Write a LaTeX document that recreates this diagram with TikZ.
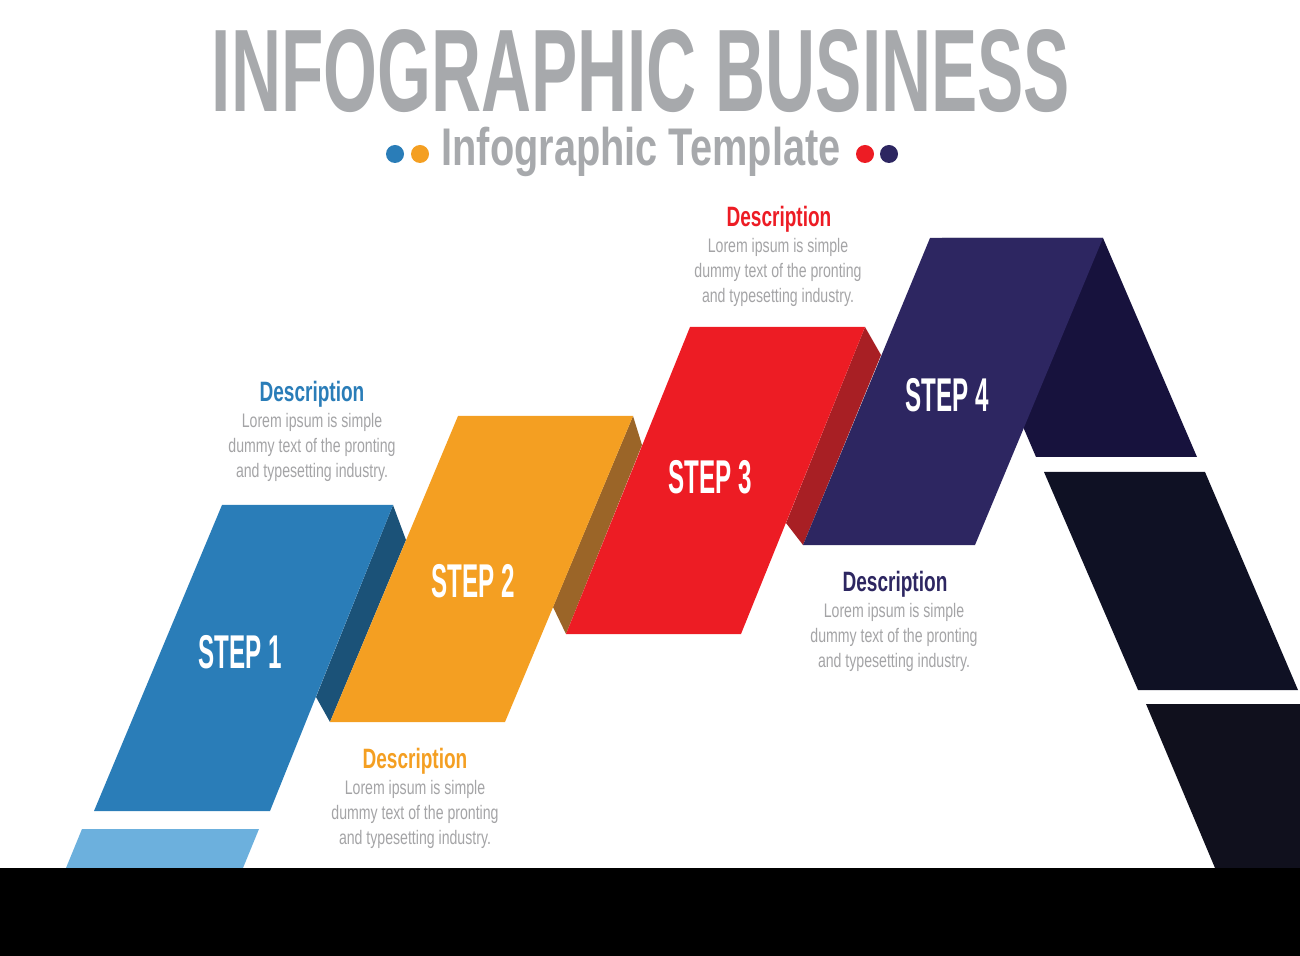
\documentclass[tikz,border=0pt]{standalone}
\usepackage{fontspec}
\setmainfont{Liberation Sans}
\usepackage{graphicx}
\usepackage{xcolor}
\usepackage{tikz}

\definecolor{titlegray}{HTML}{A7A9AC}
\definecolor{loremgray}{HTML}{A4A4A6}
\definecolor{stepblue}{HTML}{2A7DB8}
\definecolor{stepbluedark}{HTML}{1B5278}
\definecolor{stepbluelight}{HTML}{6CB0DD}
\definecolor{steporange}{HTML}{F49F22}
\definecolor{steporangedark}{HTML}{9B6528}
\definecolor{stepred}{HTML}{ED1C24}
\definecolor{stepreddark}{HTML}{A81F24}
\definecolor{stepnavy}{HTML}{2D2661}
\definecolor{stepnavydark}{HTML}{17123D}
\definecolor{inkone}{HTML}{0F1124}
\definecolor{inktwo}{HTML}{10101D}

\newcommand{\squeeze}[2]{\scalebox{#1}[1]{#2}}
\newcommand{\dummytext}{\squeeze{0.72}{\fontsize{9.8}{12.5}\selectfont\begin{tabular}[t]{@{}c@{}}Lorem ipsum is simple\\dummy text of the pronting\\and typesetting industry.\end{tabular}}}

\begin{document}
\begin{tikzpicture}[x=0.5pt, y=-0.5pt, every node/.style={inner sep=0pt},
    steplabel/.style={anchor=base, text=white, font=\fontsize{23.7}{24}\selectfont\bfseries},
    heading/.style={anchor=base, font=\fontsize{14}{14}\selectfont\bfseries},
    body/.style={anchor=base, text=loremgray},
    dot/.style={circle, minimum size=9pt}]
    \useasboundingbox (0,0) rectangle (1300,956);
    % title
    \node[anchor=base, text=titlegray, font=\fontsize{58.7}{60}\selectfont\bfseries] (title) at (641,112) {\squeeze{0.59}{INFOGRAPHIC BUSINESS}};
    \node[anchor=base, text=titlegray, font=\fontsize{26.5}{27}\selectfont\bfseries] (subtitle) at (641,166) {\squeeze{0.75}{Infographic Template}};
    \node[dot, fill=stepblue] (dot1) at (395,154) {};
    \node[dot, fill=steporange] (dot2) at (420,154) {};
    \node[dot, fill=stepred] (dot3) at (865,154) {};
    \node[dot, fill=stepnavy] (dot4) at (889,154) {};

    % ribbon, back pieces
    \fill[stepbluelight] (82,829) -- (259,829) -- (243,868) -- (66,868) -- cycle;
    \fill[stepbluedark] (393,505) -- (406,540) -- (330,722) -- (316,697) -- cycle;
    \fill[steporangedark] (633,416) -- (642,445) -- (566,634) -- (553,607) -- cycle;
    \fill[stepreddark] (865,327) -- (881,355) -- (803,545) -- (786,523) -- cycle;
    \fill[stepnavydark] (942,238) -- (1103,238) -- (1197,457) -- (1036,457) -- cycle;
    % ribbon, steps
    \fill[stepblue] (222,505) -- (393,505) -- (270,811) -- (94,811) -- cycle;
    \fill[steporange] (458,416) -- (633,416) -- (505,722) -- (330,722) -- cycle;
    \fill[stepred] (690,327) -- (865,327) -- (741,634) -- (566,634) -- cycle;
    \fill[stepnavy] (930,238) -- (1103,238) -- (975,545) -- (803,545) -- cycle;
    % ribbon, going down
    \fill[inkone] (1044,472) -- (1205,472) -- (1298,690) -- (1138,690) -- cycle;
    \fill[inktwo] (1146,704) -- (1300,704) -- (1300,868) -- (1215,868) -- cycle;
    \fill[black] (0,868) rectangle (1300,956);

    % step labels
    \node[steplabel] (step1) at (240,668) {\squeeze{0.51}{STEP 1}};
    \node[steplabel] (step2) at (473,597) {\squeeze{0.51}{STEP 2}};
    \node[steplabel] (step3) at (710,494) {\squeeze{0.51}{STEP 3}};
    \node[steplabel] (step4) at (947,412) {\squeeze{0.51}{STEP 4}};

    % descriptions
    \node[heading, text=stepblue] (desc1) at (312,402) {\squeeze{0.68}{Description}};
    \node[body] (text1) at (312,428) {\dummytext};
    \node[heading, text=steporange] (desc2) at (415,768) {\squeeze{0.68}{Description}};
    \node[body] (text2) at (415,794) {\dummytext};
    \node[heading, text=stepred] (desc3) at (779,227) {\squeeze{0.68}{Description}};
    \node[body] (text3) at (778,253) {\dummytext};
    \node[heading, text=stepnavy] (desc4) at (895,591) {\squeeze{0.68}{Description}};
    \node[body] (text4) at (894,617) {\dummytext};
\end{tikzpicture}
\end{document}
